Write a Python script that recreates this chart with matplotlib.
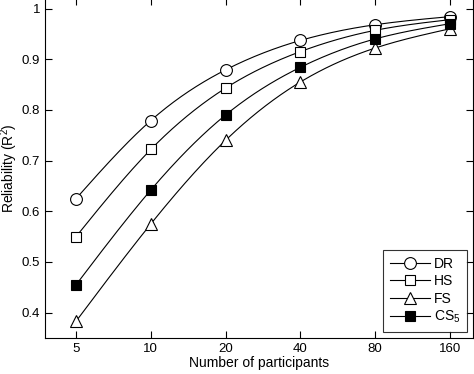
import numpy as np
import matplotlib
matplotlib.use("Agg")
import matplotlib.pyplot as plt

plt.rcParams['font.family'] = ['Liberation Sans', 'DejaVu Sans']
plt.rcParams['mathtext.fontset'] = 'custom'
plt.rcParams['mathtext.rm'] = 'Liberation Sans'
plt.rcParams['mathtext.it'] = 'Liberation Sans'

participants = ["5", "10", "20", "40", "80", "160"]
dr = [0.625, 0.779, 0.879, 0.937, 0.968, 0.984]
hs = [0.550, 0.722, 0.843, 0.915, 0.957, 0.978]
fs = [0.383, 0.575, 0.740, 0.855, 0.922, 0.960]
cs5 = [0.455, 0.642, 0.790, 0.884, 0.940, 0.970]


def spline(x, y, n=200):
    # natural cubic spline, just for the smooth connecting line
    x = np.asarray(x, float)
    y = np.asarray(y, float)
    k = len(x)
    h = np.diff(x)
    A = np.zeros((k, k))
    b = np.zeros(k)
    A[0, 0] = 1
    A[-1, -1] = 1
    for i in range(1, k - 1):
        A[i, i - 1] = h[i - 1]
        A[i, i] = 2 * (h[i - 1] + h[i])
        A[i, i + 1] = h[i]
        b[i] = 3 * ((y[i + 1] - y[i]) / h[i] - (y[i] - y[i - 1]) / h[i - 1])
    c = np.linalg.solve(A, b)
    xs = np.linspace(x[0], x[-1], n)
    idx = np.clip(np.searchsorted(x, xs) - 1, 0, k - 2)
    dx = xs - x[idx]
    bb = (y[idx + 1] - y[idx]) / h[idx] - h[idx] * (2 * c[idx] + c[idx + 1]) / 3
    d = (c[idx + 1] - c[idx]) / (3 * h[idx])
    ys = y[idx] + bb * dx + c[idx] * dx ** 2 + d * dx ** 3
    return xs, ys


fig = plt.figure(figsize=(4.74, 3.74), dpi=100)
ax = fig.add_axes([0.095, 0.0963, 0.903, 0.908])

x = np.arange(len(participants))
series = [("DR", dr, "o", "white", 8.5),
          ("HS", hs, "s", "white", 6.5),
          ("FS", fs, "^", "white", 9),
          ("CS$_5$", cs5, "s", "black", 6.5)]

for name, vals, mk, fc, ms in series:
    xs, ys = spline(x, vals)
    ax.plot(xs, ys, color="black", lw=0.8)
    ax.plot(x, vals, linestyle="none", marker=mk, markerfacecolor=fc,
            markeredgecolor="black", markersize=ms, markeredgewidth=0.8)
    ax.plot([], [], color="black", lw=0.8, marker=mk, markerfacecolor=fc,
            markeredgecolor="black", markersize=ms, markeredgewidth=0.8, label=name)

ax.set_xlim(-0.415, 5.31)
ax.set_ylim(0.35, 1.02)
ax.set_xticks(x)
ax.set_xticklabels(participants)
ax.set_yticks([0.4, 0.5, 0.6, 0.7, 0.8, 0.9, 1.0])
ax.set_yticklabels(["0.4", "0.5", "0.6", "0.7", "0.8", "0.9", "1"])
ax.tick_params(direction="in", top=True, right=True, length=5, width=0.8, labelsize=9.5)
for s in ax.spines.values():
    s.set_linewidth(0.8)

ax.set_xlabel("Number of participants", fontsize=10, labelpad=1)
ax.set_ylabel("Reliability (R$^2$)", fontsize=10, labelpad=1)

leg = ax.legend(loc="lower right", fontsize=10, frameon=True, fancybox=False,
                edgecolor="black", handlelength=2.9, borderaxespad=0.45,
                labelspacing=0.25, handletextpad=0.3, borderpad=0.45)
leg.get_frame().set_linewidth(0.8)

fig.savefig("out.png", dpi=100)
